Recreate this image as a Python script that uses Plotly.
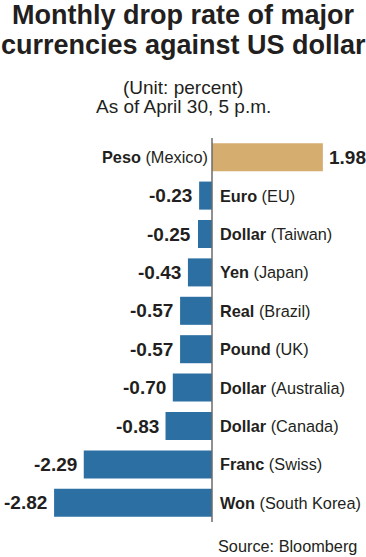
import plotly.graph_objects as go

currencies = ["Peso", "Euro", "Dollar", "Yen", "Real", "Pound", "Dollar", "Dollar", "Franc", "Won"]
countries = ["Mexico", "EU", "Taiwan", "Japan", "Brazil", "UK", "Australia", "Canada", "Swiss", "South Korea"]
values = [1.98, -0.23, -0.25, -0.43, -0.57, -0.57, -0.70, -0.83, -2.29, -2.82]
value_labels = ["1.98", "-0.23", "-0.25", "-0.43", "-0.57", "-0.57", "-0.70", "-0.83", "-2.29", "-2.82"]

W, H = 366, 557
T, B = 138, 35
PH = H - T - B
FONT = "Liberation Sans, Arial, Helvetica, sans-serif"
TXT = "#231f20"
BLUE = "#2c70a3"
GOLD = "#d4ad6f"

def py(p):
    return (H - B - p) / PH

idx = list(range(len(values)))
colors = [GOLD if v > 0 else BLUE for v in values]

fig = go.Figure(go.Bar(
    x=values, y=idx, orientation="h",
    marker=dict(color=colors, line=dict(width=0)),
    hoverinfo="skip",
))

LBL = 16.3
VAL = 19
ann = []
for i, (c, k, v, lab) in enumerate(zip(currencies, countries, values, value_labels)):
    name = f"<b>{c}</b> ({k})"
    if v > 0:
        ann.append(dict(x=0, y=i, xref="x", yref="y", text=name, xanchor="right",
                        xshift=-2, showarrow=False, font=dict(size=LBL, color=TXT, family=FONT)))
        ann.append(dict(x=v, y=i, xref="x", yref="y", text=f"<b>{lab}</b>", xanchor="left",
                        xshift=4, showarrow=False, font=dict(size=VAL, color=TXT, family=FONT)))
    else:
        ann.append(dict(x=0, y=i, xref="x", yref="y", text=name, xanchor="left",
                        xshift=6, showarrow=False, font=dict(size=LBL, color=TXT, family=FONT)))
        ann.append(dict(x=v, y=i, xref="x", yref="y", text=f"<b>{lab}</b>", xanchor="right",
                        xshift=-5, showarrow=False, font=dict(size=VAL, color=TXT, family=FONT)))

ann += [
    dict(x=0.5, y=py(15), xref="paper", yref="paper", text="<b>Monthly drop rate of major</b>",
         showarrow=False, xanchor="center", yanchor="middle", font=dict(size=27, color=TXT, family=FONT)),
    dict(x=0.5, y=py(45), xref="paper", yref="paper", text="<b>currencies against US dollar</b>",
         showarrow=False, xanchor="center", yanchor="middle", font=dict(size=27, color=TXT, family=FONT)),
    dict(x=0.5, y=py(87), xref="paper", yref="paper", text="(Unit: percent)",
         showarrow=False, xanchor="center", yanchor="middle", font=dict(size=19, color=TXT, family=FONT)),
    dict(x=0.5, y=py(107), xref="paper", yref="paper", text="As of April 30, 5 p.m.",
         showarrow=False, xanchor="center", yanchor="middle", font=dict(size=19, color=TXT, family=FONT)),
    dict(x=359 / W, y=py(546), xref="paper", yref="paper", text="Source: Bloomberg",
         showarrow=False, xanchor="right", yanchor="middle", font=dict(size=16.3, color=TXT, family=FONT)),
]

fig.update_layout(
    width=W, height=H,
    margin=dict(l=0, r=0, t=T, b=B, pad=0),
    paper_bgcolor="white", plot_bgcolor="white",
    showlegend=False,
    bargap=0.27,
    xaxis=dict(range=[-212 / 56, (W - 212) / 56], visible=False, fixedrange=True),
    yaxis=dict(range=[len(values) - 0.5, -0.5], visible=False, fixedrange=True),
    annotations=ann,
    shapes=[dict(type="line", xref="x", yref="paper", x0=0, x1=0, y0=0, y1=1,
                 line=dict(color="#6b6b6b", width=1.5))],
)

fig.write_html("out.html", config={"displayModeBar": False},
               post_script="document.body.style.margin='0';document.body.style.overflow='hidden';")
